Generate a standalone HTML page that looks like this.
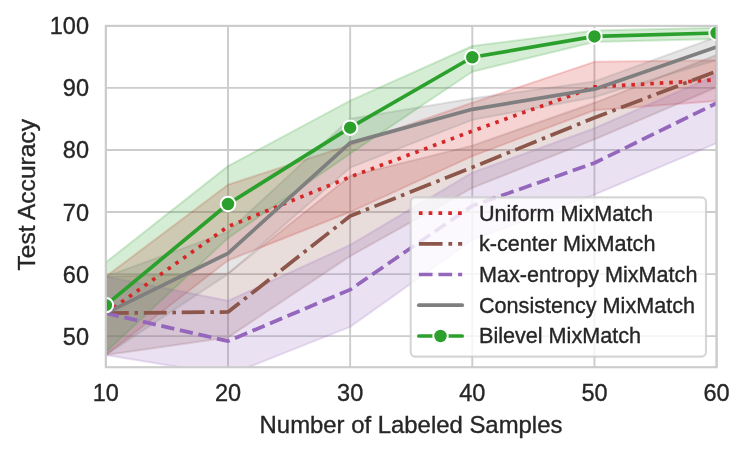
<!DOCTYPE html>
<html><head><meta charset="utf-8"><title>Test Accuracy vs Number of Labeled Samples</title>
<style>
html,body{margin:0;padding:0;background:#ffffff;}
body{width:747px;height:455px;overflow:hidden;position:relative;font-family:"Liberation Sans",sans-serif;}
svg text{font-family:"Liberation Sans",sans-serif;stroke:#262626;stroke-width:0.35px;}
</style></head><body>
<svg width="747" height="455" viewBox="0 0 747 455" style="position:absolute;left:0;top:0">
<defs><clipPath id="ax"><rect x="105.85" y="25.85" width="610.75" height="341.35"/></clipPath></defs>
<rect x="0" y="0" width="747" height="455" fill="#ffffff"/>
<path d="M105.85 367.20V25.85M228.00 367.20V25.85M350.15 367.20V25.85M472.30 367.20V25.85M594.45 367.20V25.85M716.60 367.20V25.85M105.85 336.17H716.60M105.85 274.10H716.60M105.85 212.04H716.60M105.85 149.98H716.60M105.85 87.91H716.60M105.85 25.85H716.60" stroke="#cccccc" stroke-width="1.9" fill="none"/>
<g clip-path="url(#ax)">
<path d="M105.85 276.59L228.00 184.73L350.15 145.01L472.30 102.81L594.45 61.85L716.60 60.30L716.60 100.95L594.45 110.26L472.30 156.18L350.15 212.04L228.00 260.45L105.85 354.91Z" fill="#d62728" fill-opacity="0.2" stroke="#d62728" stroke-opacity="0.2" stroke-width="2.0" stroke-linejoin="round"/>
<path d="M105.85 276.59L228.00 273.48L350.15 176.04L472.30 145.63L594.45 102.81L716.60 55.02L716.60 87.29L594.45 139.43L472.30 187.84L350.15 256.11L228.00 337.41L105.85 354.91Z" fill="#8c564b" fill-opacity="0.2" stroke="#8c564b" stroke-opacity="0.2" stroke-width="2.0" stroke-linejoin="round"/>
<path d="M105.85 276.59L228.00 300.79L350.15 244.93L472.30 172.63L594.45 128.26L716.60 74.88L716.60 143.15L594.45 194.66L472.30 239.97L350.15 326.86L228.00 375.27L105.85 354.91Z" fill="#9467bd" fill-opacity="0.2" stroke="#9467bd" stroke-opacity="0.2" stroke-width="2.0" stroke-linejoin="round"/>
<path d="M105.85 276.59L228.00 231.90L350.15 118.64L472.30 98.46L594.45 81.40L716.60 37.02L716.60 59.99L594.45 97.22L472.30 119.88L350.15 167.67L228.00 274.10L105.85 354.91Z" fill="#7f7f7f" fill-opacity="0.2" stroke="#7f7f7f" stroke-opacity="0.2" stroke-width="2.0" stroke-linejoin="round"/>
<path d="M105.85 262.31L228.00 166.11L350.15 100.64L472.30 46.02L594.45 30.50L716.60 27.71L716.60 38.88L594.45 41.99L472.30 71.78L350.15 153.70L228.00 238.11L105.85 351.99Z" fill="#2ca02c" fill-opacity="0.2" stroke="#2ca02c" stroke-opacity="0.2" stroke-width="2.0" stroke-linejoin="round"/>
<path d="M105.85 313.20L228.00 226.63L350.15 176.97L472.30 131.05L594.45 86.98L716.60 79.85" fill="none" stroke="#d62728" stroke-width="3.72" stroke-linejoin="round" stroke-linecap="butt" stroke-dasharray="3.58 5.91"/>
<path d="M105.85 313.20L228.00 311.96L350.15 216.08L472.30 167.36L594.45 117.70L716.60 71.16" fill="none" stroke="#8c564b" stroke-width="3.72" stroke-linejoin="round" stroke-linecap="butt" stroke-dasharray="22.91 5.73 3.58 5.73"/>
<path d="M105.85 313.20L228.00 341.13L350.15 289.62L472.30 205.83L594.45 163.01L716.60 103.12" fill="none" stroke="#9467bd" stroke-width="3.72" stroke-linejoin="round" stroke-linecap="butt" stroke-dasharray="13.25 5.73"/>
<path d="M105.85 313.20L228.00 253.31L350.15 142.84L472.30 109.33L594.45 89.15L716.60 46.95" fill="none" stroke="#7f7f7f" stroke-width="3.72" stroke-linejoin="round" stroke-linecap="round"/>
<path d="M105.85 305.14L228.00 203.97L350.15 127.63L472.30 57.25L594.45 36.40L716.60 32.99" fill="none" stroke="#2ca02c" stroke-width="3.72" stroke-linejoin="round" stroke-linecap="round"/>
<circle cx="105.85" cy="305.14" r="7.25" fill="#2ca02c" stroke="#ffffff" stroke-width="2.0"/>
<circle cx="228.00" cy="203.97" r="7.25" fill="#2ca02c" stroke="#ffffff" stroke-width="2.0"/>
<circle cx="350.15" cy="127.63" r="7.25" fill="#2ca02c" stroke="#ffffff" stroke-width="2.0"/>
<circle cx="472.30" cy="57.25" r="7.25" fill="#2ca02c" stroke="#ffffff" stroke-width="2.0"/>
<circle cx="594.45" cy="36.40" r="7.25" fill="#2ca02c" stroke="#ffffff" stroke-width="2.0"/>
<circle cx="716.60" cy="32.99" r="7.25" fill="#2ca02c" stroke="#ffffff" stroke-width="2.0"/>
</g>
<rect x="105.85" y="25.85" width="610.75" height="341.35" fill="none" stroke="#cccccc" stroke-width="2.1"/>
<rect x="410.70" y="197.40" width="295.30" height="159.20" rx="4.5" ry="4.5" fill="#ffffff" fill-opacity="0.8" stroke="#cccccc" stroke-opacity="0.8" stroke-width="2.1"/>
<path d="M418.85 213.20H462.2" fill="none" stroke="#d62728" stroke-width="3.72" stroke-linecap="butt" stroke-dasharray="3.70 6.10"/>
<text x="479.0" y="220.50" font-size="21.6" fill="#262626">Uniform MixMatch</text>
<path d="M418.85 243.85H462.2" fill="none" stroke="#8c564b" stroke-width="3.72" stroke-linecap="butt" stroke-dasharray="23.68 5.92 3.70 5.92"/>
<text x="479.0" y="251.15" font-size="21.6" fill="#262626">k-center MixMatch</text>
<path d="M418.85 274.50H462.2" fill="none" stroke="#9467bd" stroke-width="3.72" stroke-linecap="butt" stroke-dasharray="13.69 5.92"/>
<text x="479.0" y="281.80" font-size="21.6" fill="#262626">Max-entropy MixMatch</text>
<path d="M418.85 305.20H462.2" fill="none" stroke="#7f7f7f" stroke-width="3.72" stroke-linecap="round"/>
<text x="479.0" y="312.50" font-size="21.6" fill="#262626">Consistency MixMatch</text>
<path d="M418.85 336.00H462.2" fill="none" stroke="#2ca02c" stroke-width="3.72" stroke-linecap="round"/>
<circle cx="440.5" cy="336.00" r="7.25" fill="#2ca02c" stroke="#ffffff" stroke-width="2.0"/>
<text x="479.0" y="343.30" font-size="21.6" fill="#262626">Bilevel MixMatch</text>
<text x="105.85" y="401.0" font-size="23.5" text-anchor="middle" fill="#262626">10</text>
<text x="228.00" y="401.0" font-size="23.5" text-anchor="middle" fill="#262626">20</text>
<text x="350.15" y="401.0" font-size="23.5" text-anchor="middle" fill="#262626">30</text>
<text x="472.30" y="401.0" font-size="23.5" text-anchor="middle" fill="#262626">40</text>
<text x="594.45" y="401.0" font-size="23.5" text-anchor="middle" fill="#262626">50</text>
<text x="716.60" y="401.0" font-size="23.5" text-anchor="middle" fill="#262626">60</text>
<text x="89.0" y="344.67" font-size="23.5" text-anchor="end" fill="#262626">50</text>
<text x="89.0" y="282.60" font-size="23.5" text-anchor="end" fill="#262626">60</text>
<text x="89.0" y="220.54" font-size="23.5" text-anchor="end" fill="#262626">70</text>
<text x="89.0" y="158.48" font-size="23.5" text-anchor="end" fill="#262626">80</text>
<text x="89.0" y="96.41" font-size="23.5" text-anchor="end" fill="#262626">90</text>
<text x="89.0" y="34.35" font-size="23.5" text-anchor="end" fill="#262626">100</text>
<text x="411" y="432.9" font-size="23.9" text-anchor="middle" fill="#262626">Number of Labeled Samples</text>
<text transform="translate(35.2,194.8) rotate(-90)" font-size="24.55" text-anchor="middle" fill="#262626">Test Accuracy</text>
</svg>
</body></html>
